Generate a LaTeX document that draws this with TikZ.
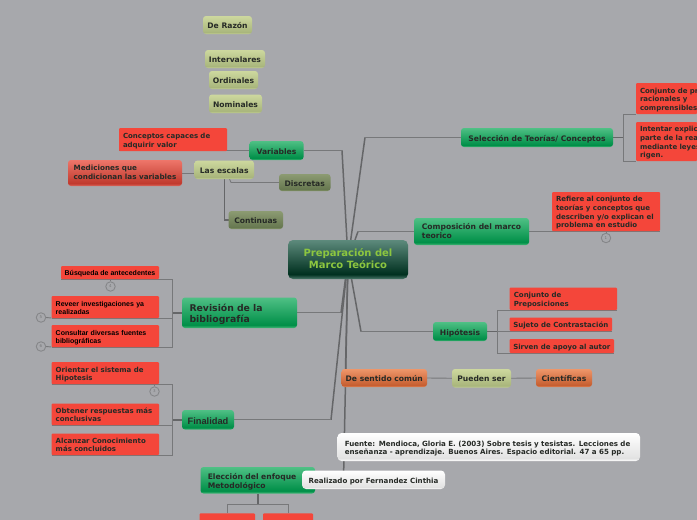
\documentclass[tikz,border=0pt]{standalone}
\usepackage{fontspec}
\setmainfont{DejaVu Sans}
\newfontfamily\arialf{Liberation Sans}
\definecolor{bgc}{HTML}{A7A8AC}
\definecolor{linec}{HTML}{77787A}
\definecolor{redc}{HTML}{F4463A}
\definecolor{txtc}{HTML}{262A26}
\definecolor{ctrtxt}{HTML}{8CC63F}
\definecolor{greenE}{HTML}{45B878}\definecolor{greenD}{HTML}{008F48}\definecolor{greenT}{HTML}{4FC085}
\definecolor{limeE}{HTML}{C6D294}\definecolor{limeD}{HTML}{A9B67C}\definecolor{limeT}{HTML}{CDD89E}
\definecolor{oliveE}{HTML}{8A9A6C}\definecolor{oliveD}{HTML}{677850}\definecolor{oliveT}{HTML}{8C9B72}
\definecolor{salmonE}{HTML}{DD6A60}\definecolor{salmonD}{HTML}{C0392D}\definecolor{salmonT}{HTML}{EE766A}
\definecolor{orangeE}{HTML}{E88A58}\definecolor{orangeD}{HTML}{C65E30}\definecolor{orangeT}{HTML}{EE966A}
\definecolor{centralE}{HTML}{4D7A6C}\definecolor{centralD}{HTML}{00301F}\definecolor{centralT}{HTML}{5D8A7C}
\definecolor{whiteD}{HTML}{E2E2E2}
\pgfdeclareverticalshading{greenshade}{100bp}{color(0bp)=(greenE);color(25bp)=(greenE);color(30bp)=(greenD);color(75bp)=(greenT);color(100bp)=(greenT)}
\pgfdeclareverticalshading{limeshade}{100bp}{color(0bp)=(limeE);color(25bp)=(limeE);color(30bp)=(limeD);color(75bp)=(limeT);color(100bp)=(limeT)}
\pgfdeclareverticalshading{oliveshade}{100bp}{color(0bp)=(oliveE);color(25bp)=(oliveE);color(30bp)=(oliveD);color(75bp)=(oliveT);color(100bp)=(oliveT)}
\pgfdeclareverticalshading{salmonshade}{100bp}{color(0bp)=(salmonE);color(25bp)=(salmonE);color(30bp)=(salmonD);color(75bp)=(salmonT);color(100bp)=(salmonT)}
\pgfdeclareverticalshading{orangeshade}{100bp}{color(0bp)=(orangeE);color(25bp)=(orangeE);color(30bp)=(orangeD);color(75bp)=(orangeT);color(100bp)=(orangeT)}
\pgfdeclareverticalshading{centralshade}{100bp}{color(0bp)=(centralE);color(25bp)=(centralE);color(31bp)=(centralD);color(75bp)=(centralT);color(100bp)=(centralT)}
\pgfdeclareverticalshading{whiteshade}{100bp}{color(0bp)=(white);color(25bp)=(white);color(30bp)=(whiteD);color(75bp)=(white);color(100bp)=(white)}
\pgfdeclarelayer{under}
\pgfsetlayers{under,main}
\tikzset{
  box/.style n args={4}{at={({(#1+#3)/2},{(#2+#4)/2})},minimum width={(#3-#1)*1pt},minimum height={(#4-#2)*1pt}},
  base/.style={inner sep=0pt,outer sep=0pt,font=\bfseries\fontsize{7.6}{8.7}\selectfont,text=txtc,align=center,
    execute at begin node={\rule{0pt}{1.15em}},execute at end node={\rule[-.2em]{0pt}{.2em}}},
  round/.style={base,rounded corners=3pt},
  greenn/.style={round,shading=greenshade,align=left},
  limen/.style={round,shading=limeshade},
  oliven/.style={round,shading=oliveshade},
  salmonn/.style={round,shading=salmonshade,align=left,font=\bfseries\fontsize{7.2}{8.4}\selectfont},
  orangen/.style={round,shading=orangeshade},
  whiten/.style={round,shading=whiteshade,align=left,rounded corners=4pt,font=\bfseries\fontsize{7.1}{8.2}\selectfont},
  centraln/.style={round,shading=centralshade,rounded corners=5pt,text=ctrtxt,font=\bfseries\fontsize{10}{12.5}\selectfont},
  redn/.style={base,fill=redc,rounded corners=1pt,align=left,font=\bfseries\fontsize{7}{8.6}\selectfont},
  reda/.style={redn,text=black,font=\arialf\bfseries\fontsize{7}{8}\selectfont},
  link/.style={draw=linec,line width=0.9pt},
  trunk/.style={draw=linec!85!black,line width=1.5pt},
  numc/.style={circle,draw=linec!70!bgc,line width=0.9pt,minimum size=9.5pt,inner sep=0pt,text=linec,font=\fontsize{4}{4}\selectfont}
}
\begin{document}
\begin{tikzpicture}[x=1pt,y=-1pt]
\useasboundingbox (0,0) rectangle (697,520);
\coordinate (kVar) at (342,150.5);
\coordinate (kSel) at (365,137.5);
\coordinate (kCom) at (358,231.5);
\coordinate (kHip) at (361,331.5);
\coordinate (kRev) at (341,312.75);
\coordinate (kFin) at (331,419.75);
\coordinate (kSen) at (345.5,369);
\coordinate (kEle) at (343.5,480.25);
\coordinate (bSel) at (623.5,137.5);
\coordinate (bHip) at (497.5,331.5);
\coordinate (bRev) at (172.5,312.75);
\coordinate (bFin) at (172,419.75);
\coordinate (bEle) at (257.75,504.5);
\coordinate (kDisA) at (231,182.5);
\coordinate (kDisB) at (229.5,179);
% nodes
\node[limen,box={203}{16}{252}{34}] (razon) {De Razón};
\node[limen,box={205}{50}{265}{68}] (inter) {Intervalares};
\node[limen,box={209}{71}{258}{89}] (ordi) {Ordinales};
\node[limen,box={209}{94.5}{262}{113}] (nomi) {Nominales};
\node[redn,box={119}{128}{227}{151},text width=100pt] (conc) {Conceptos capaces de\\adquirir valor};
\node[greenn,box={249.5}{141}{303.5}{160},align=center] (vari) {Variables};
\node[limen,box={194.5}{160.5}{254}{179}] (esca) {Las escalas};
\node[salmonn,box={68}{160}{182}{186}] (medi) {Mediciones que\\condicionan las variables};
\node[oliven,box={279}{174}{330.5}{191}] (disc) {Discretas};
\node[oliven,box={228.5}{211}{283}{229}] (cont) {Continuas};
\node[greenn,box={461}{128}{613}{147},align=center] (sele) {Selección de Teorías/ Conceptos};
\node[redn,box={636}{83}{697}{114},text width=53pt] (pr1) {\mbox{Conjunto de pr}\\racionales y\\\mbox{comprensibles}};
\node[redn,box={636}{122}{697}{161},text width=53pt] (pr2) {\mbox{Intentar explic}\\\mbox{parte de la rea}\\\mbox{mediante leyes}\\rigen.};
\node[greenn,box={414}{218}{529}{245}] (comp) {Composición del marco\\teorico};
\node[redn,box={552}{192}{660}{231},text width=100pt] (refi) {Refiere al conjunto de\\teorías y conceptos que\\describen y/o explican el\\problema en estudio};
\node[reda,box={61}{266}{159}{279}] (busq) {Búsqueda de antecedentes};
\node[reda,box={51.5}{296}{159}{318},text width=99pt] (reve) {Reveer investigaciones ya\\realizadas};
\node[reda,box={51.5}{325}{159}{347},text width=99pt] (cons) {Consultar diversas fuentes\\bibliográficas};
\node[redn,box={51.5}{362}{159}{384},text width=99pt] (orie) {Orientar el sistema de\\Hipotesis};
\node[redn,box={51.5}{403.5}{159}{425},text width=99pt] (obte) {Obtener respuestas más\\conclusivas};
\node[redn,box={51.5}{433.5}{159}{455},text width=99pt] (alca) {Alcanzar Conocimiento\\más concluidos};
\node[greenn,box={182}{297.5}{297}{328},text width=100pt,font=\bfseries\fontsize{9.3}{11}\selectfont] (revi) {Revisión de la\\bibliografía};
\node[greenn,box={182}{410}{234}{429.5},align=center,font=\arialf\bfseries\fontsize{9.3}{11}\selectfont] (fina) {Finalidad};
\node[greenn,box={200.5}{467}{315}{493.5},text width=100pt] (elec) {Elección del enfoque\\Metodológico};
\node[redn,box={199.5}{516}{255}{520}] (bo1) {};
\node[redn,box={263}{516}{313}{520}] (bo2) {};
\node[redn,box={509.6}{287.5}{617}{310},text width=99pt] (conj) {Conjunto de\\Preposiciones};
\node[redn,box={509.6}{317.5}{612}{331}] (suje) {Sujeto de Contrastación};
\node[redn,box={509.6}{339}{614}{353}] (sirv) {Sirven de apoyo al autor};
\node[greenn,box={433}{322}{487}{341},align=center] (hipo) {Hipótesis};
\node[orangen,box={341.5}{369}{427}{387}] (sent) {De sentido común};
\node[limen,box={452}{369}{511}{387.5}] (pued) {Pueden ser};
\node[orangen,box={536}{369}{592}{387}] (cien) {Científicas};
\node[whiten,box={337.5}{433}{640}{461},text width=288pt] (fuen) {Fuente: Mendioca, Gloria E. (2003) Sobre tesis y tesistas. Lecciones de\\enseñanza - aprendizaje. Buenos Aires. Espacio editorial. 47 a 65 pp.};
\node[whiten,box={302}{470.5}{445}{489}] (real) {Realizado por Fernandez Cinthia};
\node[numc] (n1) at (606,238) {1};
\node[numc] (n4) at (110.5,286.5) {4};
\node[numc] (n5) at (41,317.5) {5};
\node[numc] (n6) at (41,346.5) {6};
\node[numc] (n3) at (154.5,391.5) {3};
\node[centraln,box={288}{240}{408}{279}] (ctr) {Preparación del\\Marco Teórico};
% connectors
\begin{pgfonlayer}{under}
\fill[bgc] (0,0) rectangle (697,520);
\draw[trunk] (ctr) -- (kVar); \draw[link] (kVar) -- (vari.east);
\draw[trunk] (ctr) -- (kSel); \draw[link] (kSel) -- (sele.west);
\draw[trunk] (ctr) -- (kCom); \draw[link] (kCom) -- (comp.west);
\draw[trunk] (ctr) -- (kHip); \draw[link] (kHip) -- (hipo.west);
\draw[trunk] (ctr) -- (kRev); \draw[link] (kRev) -- (revi.east);
\draw[trunk] (ctr) -- (kFin); \draw[link] (kFin) -- (fina.east);
\draw[trunk] (ctr) -- (kSen);
\draw[trunk] (ctr) -- (kEle); \draw[link] (kEle) -- (elec.east);
\draw[link] (vari.west) -- (vari.west -| conc.west);
\draw[link] (medi.east) -- (medi.east -| esca.west);
\draw[trunk] (esca.south) -- (esca.south |- cont.west) -- (cont.west);
\draw[link] (kDisB) -- (kDisA) -- (disc.west);
\draw[trunk] (sele.east) -- (bSel);
\draw[link] (pr1.south west) -- (pr1.south west -| bSel) -- (pr2.south west -| bSel) -- (pr2.south west);
\draw[link] (comp.east) -- (comp.east -| refi.east);
\draw[link] (n1.north) -- (n1.north |- refi.south);
\draw[trunk] (hipo.east) -- (bHip);
\draw[link] (conj.south east) -- (conj.south east -| bHip) -- (sirv.south east -| bHip) -- (sirv.south east);
\draw[link] (suje.south east) -- (suje.south east -| bHip);
\draw[link] (sent.east) -- (pued.west);
\draw[link] (pued.east) -- (cien.west);
\draw[trunk] (revi.west) -- (bRev);
\draw[link] (busq.south west) -- (busq.south west -| bRev) -- (cons.south west -| bRev) -- (cons.south west);
\draw[link] (reve.south west) -- (reve.south west -| bRev);
\draw[link] (n4.north) -- (n4.north |- busq.south);
\draw[link] (n5.east) -- (reve.south west);
\draw[link] (n6.east) -- (cons.south west);
\draw[trunk] (fina.west) -- (bFin);
\draw[link] (orie.south west) -- (orie.south west -| bFin) -- (alca.south west -| bFin) -- (alca.south west);
\draw[link] (obte.south west) -- (obte.south west -| bFin);
\draw[link] (n3.north) -- (n3.north |- orie.south);
\draw[trunk] (elec.south) -- (bEle);
\draw[link] (bo1.north) -- (bo1.north |- bEle) -- (bo2.north |- bEle) -- (bo2.north);
\end{pgfonlayer}
\end{tikzpicture}
\end{document}
